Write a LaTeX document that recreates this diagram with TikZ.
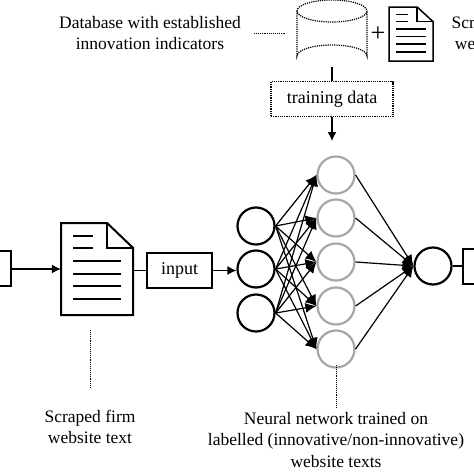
\documentclass[tikz,border=0pt]{standalone}
\usepackage{fontspec}
\setmainfont{Liberation Serif}
\usetikzlibrary{arrows.meta}
\tikzset{
  label text/.style={align=center, font=\fontsize{17.5}{21.5}\selectfont},
  box/.style={draw, line width=1.2pt, minimum height=35pt, font=\fontsize{18}{21}\selectfont},
  dottedbox/.style={box, densely dotted},
  blacknode/.style={circle, draw, line width=2.2pt, minimum size=37pt, inner sep=0pt},
  graynode/.style={circle, draw=black!35, line width=2.2pt, minimum size=37pt, inner sep=0pt},
  flow/.style={line width=1.2pt, -{Latex[length=9pt,width=9pt]}},
  synapse/.style={line width=1.2pt, -{Latex[length=11pt,width=10pt]}},
  leader/.style={densely dotted, line width=0.9pt}
}
% sheet with folded corner: name, left, top, width, height, line width
\newcommand{\docsheet}[6]{
  \node[minimum width=#4pt, minimum height=#5pt, inner sep=0pt] (#1) at (#2+#4/2, #3+#5/2) {};
  \begin{scope}[shift={(#2,#3)}, x=#4pt, y=-#5pt, line width=#6pt]
    \draw (0.64,0) -- (0,0) -- (0,1) -- (1,1) -- (1,0.27) -- cycle;
    \draw (0.64,0) -- (0.64,0.27) -- (1,0.27);
    \foreach \y in {0.14,0.27} \draw (0.17,\y) -- (0.44,\y);
    \foreach \y in {0.41,0.55,0.685,0.83} \draw (0.17,\y) -- (0.83,\y);
  \end{scope}
}
\begin{document}
\begin{tikzpicture}[x=1pt, y=-1pt]
  \clip (0,0) rectangle (474,474);

  % Top row
  \node[label text] (dbtext) at (150,33) {Database with established\\innovation indicators};
  \node[minimum width=70pt, minimum height=67pt, inner sep=0pt] (database) at (332,33.5) {};
  \draw[densely dotted, line width=1.2pt] (297,11) arc[start angle=180, end angle=-180, x radius=35pt, y radius=11pt]
    (297,11) -- (297,56) arc[start angle=180, end angle=360, x radius=35pt, y radius=-11pt] -- (367,11);
  \node[font=\fontsize{26}{26}\selectfont] (plus) at (378,34) {+};
  \docsheet{sheettop}{389}{7}{44}{54}{1.5}
  \node[label text, anchor=west] (toptext) at (448,33) {Scraped firm\\website text};
  \coordinate (dbleadstart) at (254,33);
  \coordinate (dbleadend) at (286,33);
  \draw[leader] (dbleadstart) -- (dbleadend);

  % Training data
  \node[dottedbox, minimum width=122pt] (training) at (332,99) {training data};
  \coordinate (hiddentop) at (332,141);
  \draw[line width=1.2pt] (database.south) -- (training.north);
  \draw[flow] (training.south) -- (hiddentop);

  % Middle row
  \node[box, minimum width=60pt] (source) at (-19,268.5) {};
  \docsheet{sheetmain}{61}{223}{72}{92}{2}
  \node[box, minimum width=65pt] (input) at (179.5,270.5) {input};
  \node[box, minimum width=60pt] (output) at (493,266.5) {};

  % Network
  \foreach \n/\y in {1/226,2/269,3/313}
    \node[blacknode] (in\n) at (256,\y) {};
  \foreach \n/\y in {1/175,2/218,3/262,4/306,5/349}
    \node[graynode] (hid\n) at (336,\y) {};
  \node[blacknode] (out) at (433,266) {};
  \foreach \i in {1,2,3}
    \foreach \j in {1,...,5}
      \draw[synapse] (in\i.east) -- (hid\j.west);
  \foreach \j in {1,...,5}
    \draw[synapse] (hid\j.east) -- (out.west);

  \draw[flow] (source.east |- 0,269) -- (sheetmain.west |- 0,269);
  \draw[line width=1.2pt] (sheetmain.east |- input) -- (input.west);
  \draw[flow] (input.east) -- (in2.west |- input);
  \draw[line width=1.2pt] (out.east) -- (output.west |- out);

  % Captions
  \node[label text] (scrapedtext) at (90,427) {Scraped firm\\website text};
  \node[label text] (nettext) at (336,440) {Neural network trained on\\labelled (innovative/non-innovative)\\website texts};
  \coordinate (sheetlead) at (90,330);
  \coordinate (scrapedlead) at (90,388);
  \coordinate (hidlead) at (336,365);
  \coordinate (netlead) at (336,408);
  \draw[leader] (sheetlead) -- (scrapedlead);
  \draw[leader] (hidlead) -- (netlead);
\end{tikzpicture}
\end{document}
